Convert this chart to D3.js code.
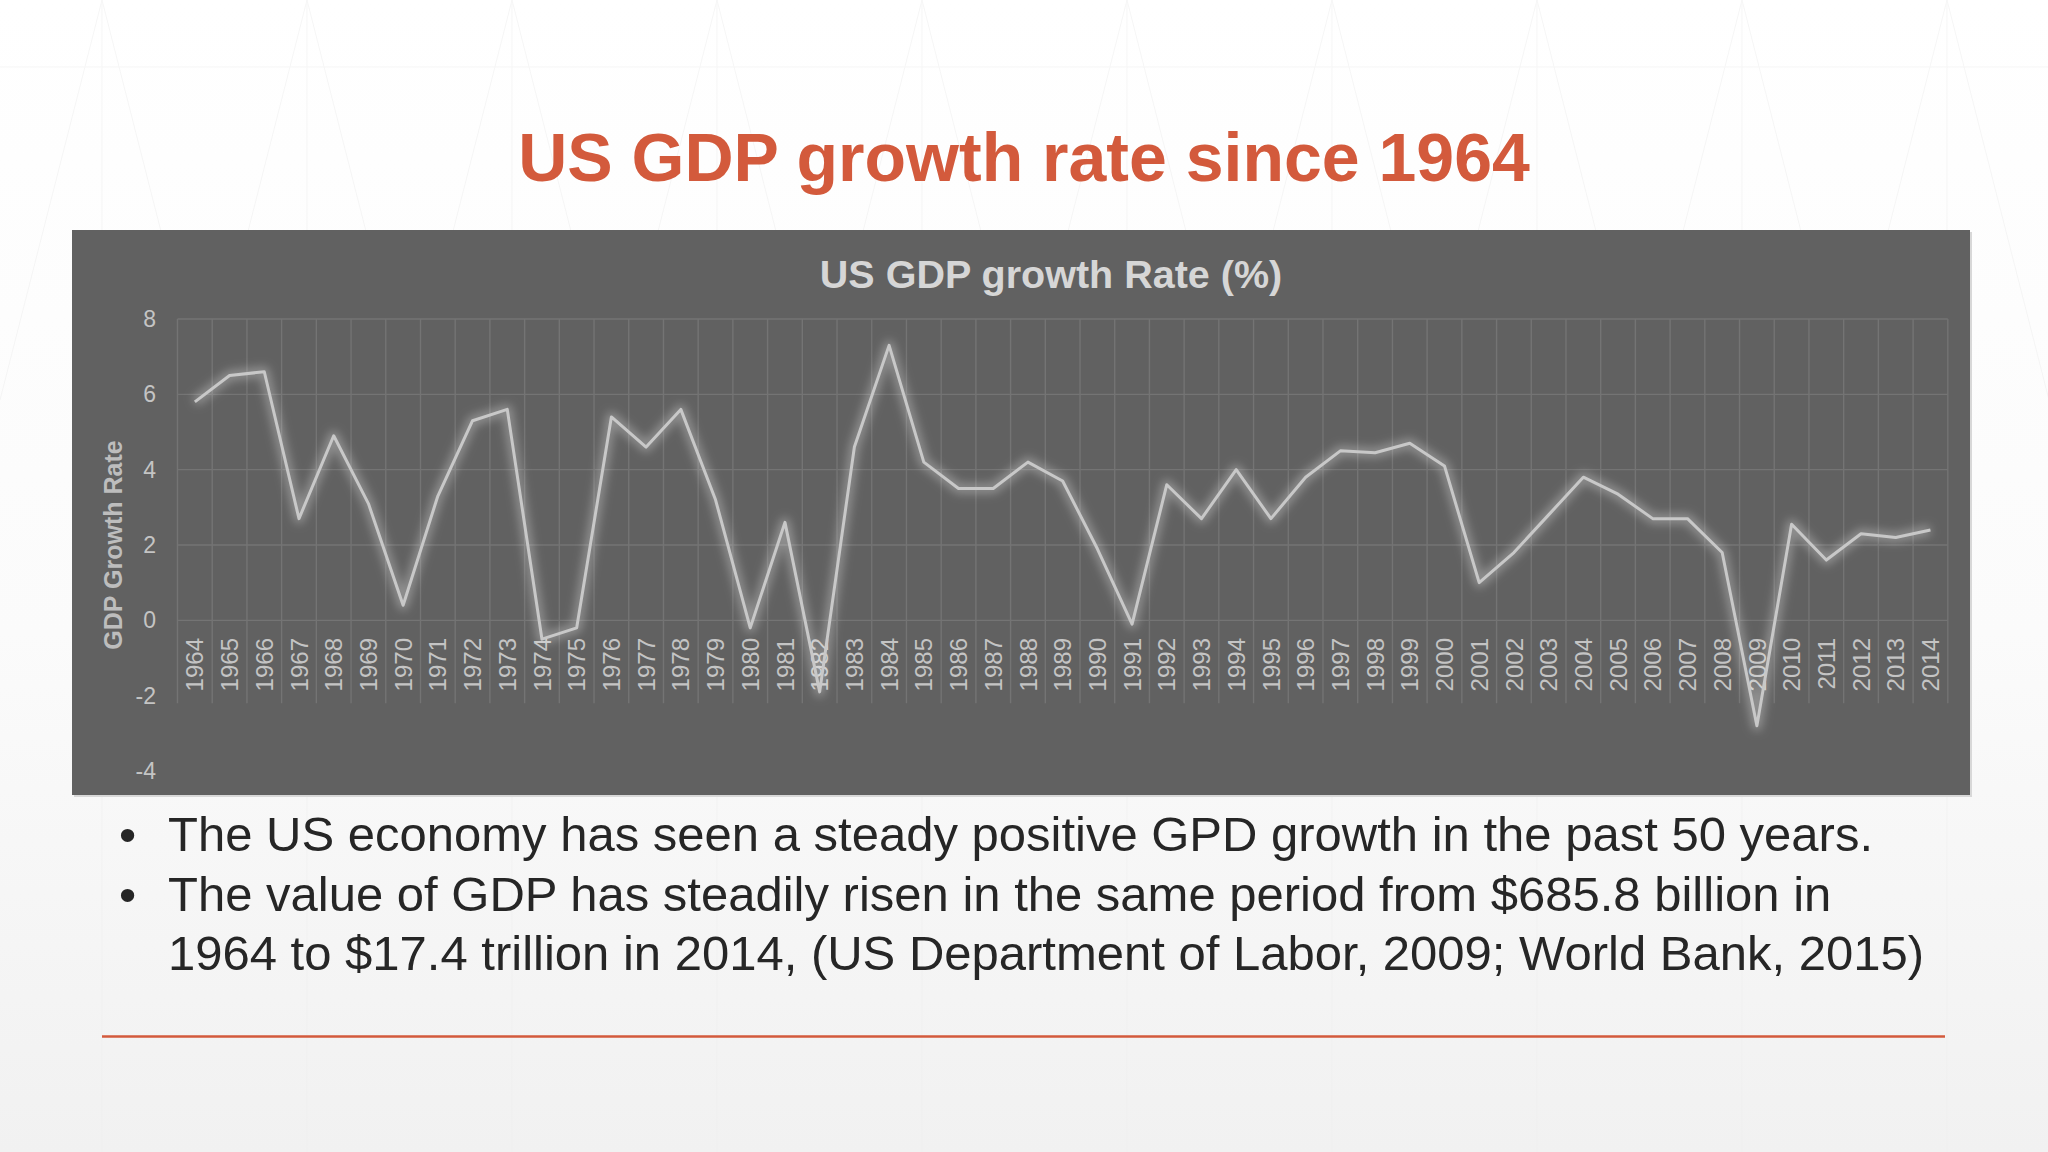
<!DOCTYPE html>
<meta charset="utf-8">
<head>
<style>
  body { margin: 0; background: #fff; }
  svg { display: block; font-family: "Liberation Sans", Arial, sans-serif; }
</style>
</head>
<body>
<script src="https://cdnjs.cloudflare.com/ajax/libs/d3/7.8.5/d3.min.js"></script>
<script>

const years = d3.range(1964, 2015).map(String);
const growth = [
  5.8, 6.5, 6.6, 2.7, 4.9, 3.1, 0.4, 3.3, 5.3, 5.6,
  -0.5, -0.2, 5.4, 4.6, 5.6, 3.2, -0.2, 2.6, -1.9, 4.6,
  7.3, 4.2, 3.5, 3.5, 4.2, 3.7, 1.9, -0.1, 3.6, 2.7,
  4.0, 2.7, 3.8, 4.5, 4.45, 4.7, 4.1, 1.0, 1.8, 2.8,
  3.8, 3.35, 2.7, 2.7, 1.8, -2.8, 2.55, 1.6, 2.3, 2.2,
  2.4
];
const yTicks = [-4, -2, 0, 2, 4, 6, 8];
const bullets = [
  ["The US economy has seen a steady positive GPD growth in the past 50 years."],
  ["The value of GDP has steadily risen in the same period from $685.8 billion in",
   "1964 to $17.4 trillion in 2014, (US Department of Labor, 2009; World Bank, 2015)"]
];

const W = 2048, H = 1152;
const svg = d3.select("body").append("svg")
  .attr("width", W)
  .attr("height", H);

const defs = svg.append("defs");
const bg = defs.append("linearGradient").attr("id", "bg")
  .attr("x1", 0).attr("y1", 0).attr("x2", 0).attr("y2", 1);
bg.append("stop").attr("offset", "0%").attr("stop-color", "#ffffff");
bg.append("stop").attr("offset", "55%").attr("stop-color", "#fbfbfb");
bg.append("stop").attr("offset", "100%").attr("stop-color", "#f1f1f1");

const glow = defs.append("filter").attr("id", "glow")
  .attr("x", "-5%").attr("y", "-20%").attr("width", "110%").attr("height", "140%");
glow.append("feGaussianBlur").attr("in", "SourceGraphic").attr("stdDeviation", 5);

svg.append("rect").attr("width", W).attr("height", H).attr("fill", "url(#bg)");

// faint slide pattern
const pat = svg.append("g").attr("stroke", "#ededed").attr("stroke-width", 1).attr("opacity", 0.5);
d3.range(102, W, 205).forEach(x => {
  pat.append("line").attr("x1", x).attr("x2", x).attr("y1", 0).attr("y2", H);
  pat.append("line").attr("x1", x).attr("x2", x + 102).attr("y1", 0).attr("y2", 400);
  pat.append("line").attr("x1", x).attr("x2", x - 102).attr("y1", 0).attr("y2", 400);
});
pat.append("line").attr("x1", 0).attr("x2", W).attr("y1", 67).attr("y2", 67);

// title
svg.append("text")
  .attr("x", 1024).attr("y", 181)
  .attr("text-anchor", "middle")
  .attr("font-size", 68).attr("font-weight", "bold")
  .attr("fill", "#d35a3c")
  .text("US GDP growth rate since 1964");

// chart panel
const panel = {x: 72, y: 230, w: 1898, h: 565};
svg.append("rect")
  .attr("x", panel.x + 2).attr("y", panel.y + 2)
  .attr("width", panel.w).attr("height", panel.h)
  .attr("fill", "#d8d8d8");
svg.append("rect")
  .attr("x", panel.x).attr("y", panel.y)
  .attr("width", panel.w).attr("height", panel.h)
  .attr("fill", "#616161");

const x = d3.scaleBand().domain(years).range([177.5, 1947.8]).padding(0);
const y = d3.scaleLinear().domain([-4, 8]).range([771, 319]);

const grid = svg.append("g").attr("stroke", "#747474").attr("stroke-width", 1.4);
grid.selectAll("line.h")
  .data(yTicks.filter(t => t >= 0))
  .join("line")
    .attr("class", "h")
    .attr("x1", x.range()[0]).attr("x2", x.range()[1])
    .attr("y1", d => y(d)).attr("y2", d => y(d));
grid.selectAll("line.v")
  .data(years.concat(["end"]))
  .join("line")
    .attr("class", "v")
    .attr("x1", (d, i) => x.range()[0] + i * x.step())
    .attr("x2", (d, i) => x.range()[0] + i * x.step())
    .attr("y1", y(8)).attr("y2", y(-2.2));

// y axis labels
const yAxis = d3.axisLeft(y).tickValues(yTicks).tickFormat(d => String(d)).tickSize(0).tickPadding(0);
svg.append("g")
  .attr("transform", "translate(156,0)")
  .call(yAxis)
  .call(g => g.select(".domain").remove())
  .selectAll("text")
    .attr("font-size", 23)
    .attr("font-family", "Liberation Sans, Arial, sans-serif")
    .attr("fill", "#c4c4c4");

// x axis labels
const xAxis = d3.axisBottom(x).tickSize(0).tickPadding(0);
svg.append("g")
  .attr("transform", "translate(0,638)")
  .call(xAxis)
  .call(g => g.select(".domain").remove())
  .selectAll("text")
    .attr("font-size", 24)
    .attr("font-family", "Liberation Sans, Arial, sans-serif")
    .attr("fill", "#c4c4c4")
    .attr("text-anchor", "end")
    .attr("transform", "rotate(-90)")
    .attr("x", 0).attr("y", 0)
    .attr("dx", 0).attr("dy", "0.36em");

// axis title
svg.append("text")
  .attr("transform", "translate(122," + y(2) + ") rotate(-90)")
  .attr("text-anchor", "middle")
  .attr("font-size", 25).attr("font-weight", "bold")
  .attr("fill", "#bdbdbd")
  .text("GDP Growth Rate");

// chart title
svg.append("text")
  .attr("x", 1051).attr("y", 288)
  .attr("text-anchor", "middle")
  .attr("font-size", 39.5).attr("font-weight", "bold")
  .attr("fill", "#d6d6d6")
  .text("US GDP growth Rate (%)");

// the line
const line = d3.line()
  .x((d, i) => x(years[i]) + x.bandwidth() / 2)
  .y(d => y(d));
svg.append("path")
  .datum(growth)
  .attr("fill", "none")
  .attr("stroke", "#ffffff")
  .attr("stroke-opacity", 0.3)
  .attr("stroke-width", 10)
  .attr("stroke-linejoin", "round")
  .attr("filter", "url(#glow)")
  .attr("d", line);
svg.append("path")
  .datum(growth)
  .attr("fill", "none")
  .attr("stroke", "#c8c8c8")
  .attr("stroke-width", 3)
  .attr("stroke-linejoin", "round")
  .attr("d", line);

// bullet text
const bt = svg.append("g").attr("font-size", 49).attr("fill", "#262626");
let lineNo = 0;
bullets.forEach(b => {
  bt.append("text").attr("x", 119).attr("y", 851 + lineNo * 59.5).text("•");
  b.forEach(t => {
    bt.append("text").attr("x", 168).attr("y", 851 + lineNo * 59.5).text(t);
    lineNo++;
  });
});

// red rule
svg.append("line")
  .attr("x1", 102).attr("x2", 1945)
  .attr("y1", 1036.5).attr("y2", 1036.5)
  .attr("stroke", "#d35a3c").attr("stroke-width", 2.5);

</script>
</body>
